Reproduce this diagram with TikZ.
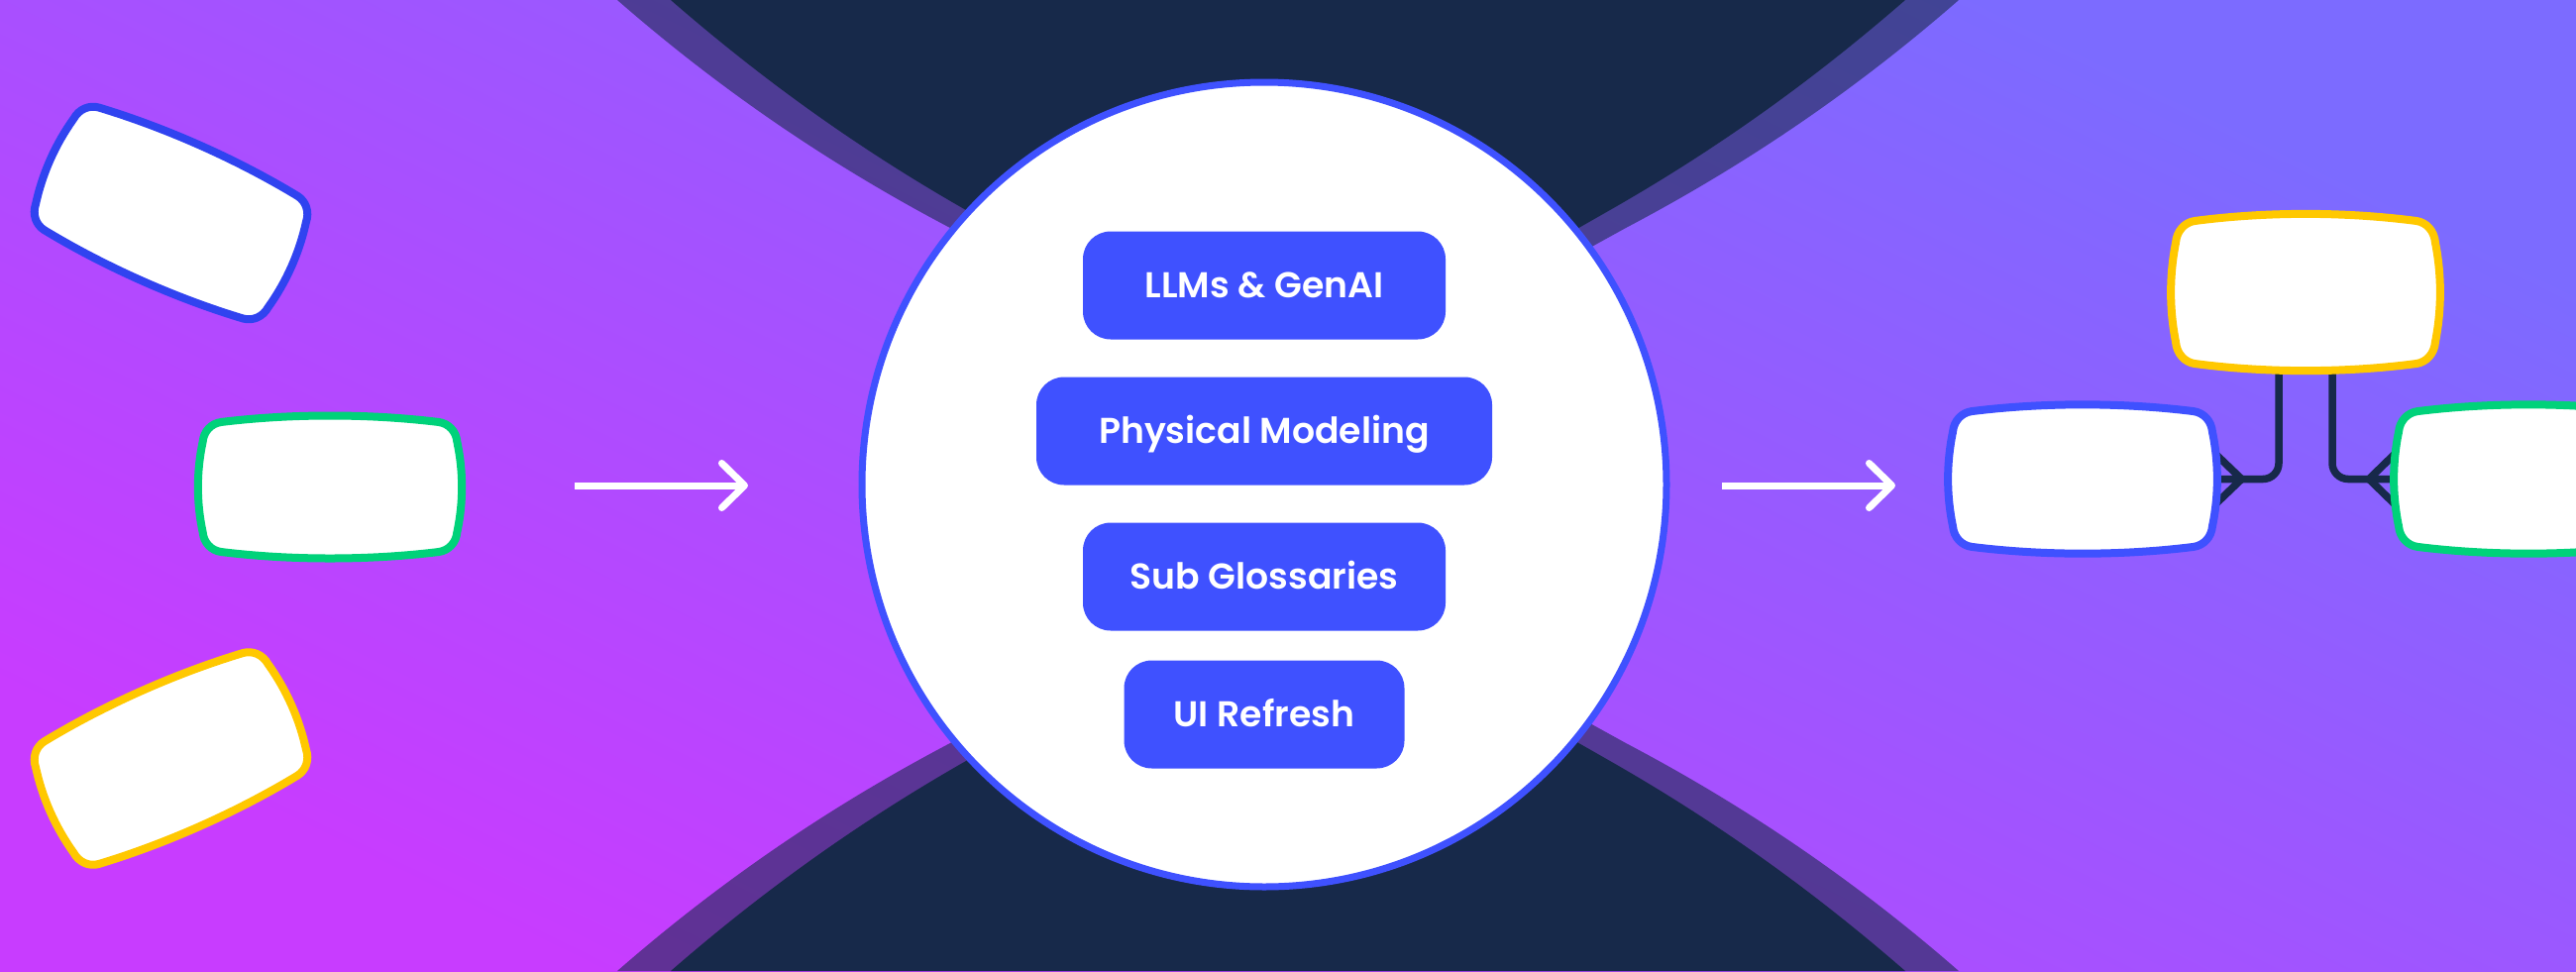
\documentclass[tikz,border=0pt]{standalone}
\usepackage{fontspec}
\setmainfont{Poppins SemiBold}
\usetikzlibrary{positioning, arrows.meta}
\definecolor{ink_dark}{HTML}{17294A}
\definecolor{hub_blue}{HTML}{3F51FF}
\definecolor{tile_deep}{HTML}{3043F0}
\definecolor{tile_green}{HTML}{00D27A}
\definecolor{tile_yellow}{HTML}{FFC800}
\definecolor{bg_start}{HTML}{C83CFF}
\definecolor{bg_end}{HTML}{7C6BFF}

\begin{document}
\begin{tikzpicture}[
        pill_node/.style={rectangle, fill=hub_blue, text=white, rounded corners=2.8mm, minimum height=10.9mm, outer sep=0pt, inner sep=0pt, text height=7.2pt, text depth=0pt, font=\fontsize{10.3}{12}\selectfont},
        hub_node/.style={circle, draw=hub_blue, fill=white, line width=0.07cm, minimum size=8.12cm, inner sep=0pt},
        flow_arrow/.style={white, line width=0.07cm, -{Straight Barb[length=2.3mm, width=4.5mm, round]}},
        link_line/.style={ink_dark, line width=0.075cm},
        pics/tile/.style={code={
            \draw[draw=#1, fill=white, line width=0.08cm, line join=round]
                (-1.12,0.72) .. controls (-0.40,0.815) and (0.40,0.815) .. (1.12,0.72)
                .. controls (1.22,0.705) and (1.30,0.62) .. (1.31,0.50)
                .. controls (1.375,0.17) and (1.375,-0.17) .. (1.31,-0.50)
                .. controls (1.30,-0.62) and (1.22,-0.705) .. (1.12,-0.72)
                .. controls (0.40,-0.815) and (-0.40,-0.815) .. (-1.12,-0.72)
                .. controls (-1.22,-0.705) and (-1.30,-0.62) .. (-1.31,-0.50)
                .. controls (-1.375,-0.17) and (-1.375,0.17) .. (-1.31,0.50)
                .. controls (-1.30,0.62) and (-1.22,0.705) .. (-1.12,0.72) -- cycle;
        }},
        ]
            \useasboundingbox (0,0) rectangle (26,9.8);
            \shade[shading=axis, bottom color=bg_start, top color=bg_end, shading angle=-26] (0,0) rectangle (26,9.8);

            % bands
            \fill[ink_dark, opacity=0.58] (6.23,9.8) .. controls (7.33,8.84) and (8.45,8.10) .. (9.59,7.50) -- (10.75,6.86) -- (15.25,6.86) -- (16.41,7.50) .. controls (17.55,8.10) and (18.67,8.84) .. (19.77,9.8) -- cycle;
            \fill[ink_dark, opacity=0.58] (6.23,0) .. controls (7.33,0.96) and (8.45,1.70) .. (9.59,2.30) -- (10.75,2.94) -- (15.25,2.94) -- (16.41,2.30) .. controls (17.55,1.70) and (18.67,0.96) .. (19.77,0) -- cycle;
            \fill[ink_dark] (6.77,9.8) .. controls (7.77,8.93) and (8.75,8.25) .. (9.75,7.68) -- (10.75,7.11) -- (15.25,7.11) -- (16.25,7.68) .. controls (17.25,8.25) and (18.23,8.93) .. (19.23,9.8) -- cycle;
            \fill[ink_dark] (6.77,0) .. controls (7.77,0.87) and (8.75,1.55) .. (9.75,2.12) -- (10.75,2.69) -- (15.25,2.69) -- (16.25,2.12) .. controls (17.25,1.55) and (18.23,0.87) .. (19.23,0) -- cycle;

            % hub
            \node[hub_node]    (hub)        at (12.76,4.91)                          {};
            \node[pill_node, minimum width=36.6mm]   (pill_llm)      at (12.76,6.92)                  {LLMs \& GenAI};
            \node[pill_node, minimum width=46mm]     (pill_phys)     [below = 3.8mm of pill_llm]      {Physical Modeling};
            \node[pill_node, minimum width=36.6mm]   (pill_sub)      [below = 3.8mm of pill_phys]     {Sub Glossaries};
            \node[pill_node, minimum width=28.3mm]   (pill_ui)       [below = 3mm of pill_sub]        {UI Refresh};

            % arrows
            \coordinate (in_start)   at (5.80,4.90);
            \coordinate (in_end)     at (7.55,4.90);
            \coordinate (out_start)  at (17.38,4.90);
            \coordinate (out_end)    at (19.13,4.90);
            \draw[flow_arrow] (in_start) -- (in_end);
            \draw[flow_arrow] (out_start) -- (out_end);

            % anchors of the tiles on the right
            \coordinate (top_center)     at (23.27,6.85);
            \coordinate (blue_center)    at (21.02,4.965);
            \coordinate (green_center)   at (25.52,4.965);
            \coordinate[right = 16.05mm of blue_center]  (foot_blue);
            \coordinate[left = 16.1mm of green_center]   (foot_green);

            % links
            \draw[link_line, rounded corners=1.6mm] ([xshift=-2.7mm, yshift=-6mm]top_center) |- (blue_center);
            \draw[link_line, rounded corners=1.6mm] ([xshift=2.7mm, yshift=-6mm]top_center) |- (green_center);
            \draw[link_line] (foot_blue) -- ([xshift=12.3mm, yshift=3.6mm]blue_center);
            \draw[link_line] (foot_blue) -- ([xshift=12.3mm, yshift=-3.6mm]blue_center);
            \draw[link_line] (foot_green) -- ([xshift=-12.4mm, yshift=3.6mm]green_center);
            \draw[link_line] (foot_green) -- ([xshift=-12.4mm, yshift=-3.6mm]green_center);

            % tiles
            \pic (tile_top)   at (top_center)   {tile=tile_yellow};
            \pic[yscale=0.95] (tile_blue)  at (blue_center)  {tile=hub_blue};
            \pic[yscale=0.95] (tile_green) at (green_center) {tile=tile_green};
            \pic[rotate=-24, xscale=0.98, yscale=0.94] (tile_a) at (1.725,7.65) {tile=tile_deep};
            \pic[xscale=0.98, yscale=0.91] (tile_b) at (3.33,4.885) {tile=tile_green};
            \pic[rotate=24, xscale=0.98, yscale=0.94] (tile_c) at (1.725,2.145) {tile=tile_yellow};
        \end{tikzpicture}
\end{document}
